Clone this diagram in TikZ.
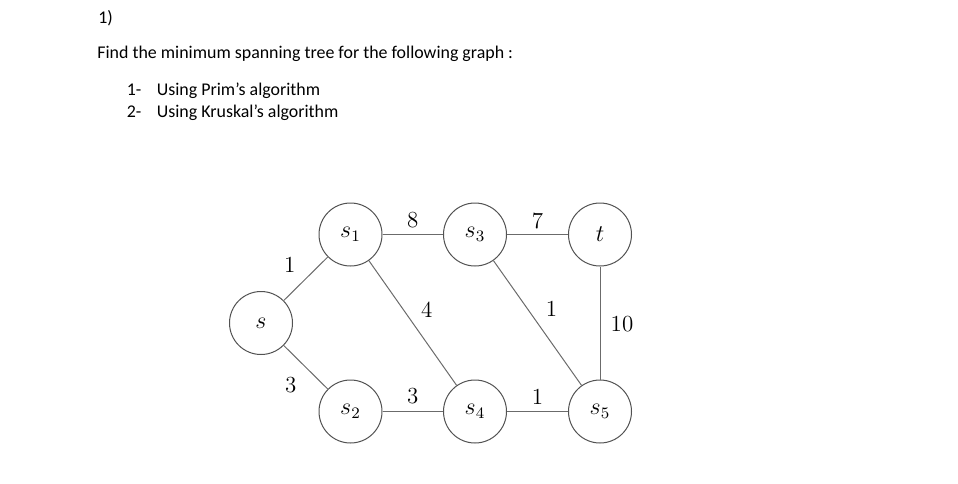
\documentclass[tikz,border=0pt]{standalone}
\usepackage{fontspec}
\usepackage{amsmath}
\usetikzlibrary{positioning}
\newfontfamily\docfont{Carlito}

\begin{document}
\begin{tikzpicture}[x=0.5pt,y=-0.5pt]
        % Define some colors for convenience
        \definecolor{edgecolor}{rgb}{0.42,0.42,0.42} % edge color
        \definecolor{vertexcolor}{rgb}{0.32,0.32,0.32} % vertex border color

        \tikzset{
            vertex/.style={draw=vertexcolor, circle, line width=0.5pt, minimum size=31.5pt, inner sep=0pt, font=\fontsize{11.5}{13}\selectfont},
            link/.style={draw=edgecolor, line width=0.5pt},
            weight/.style={midway, inner sep=0pt, font=\fontsize{11.5}{13}\selectfont},
            task/.style={anchor=base west, inner sep=0pt, font=\docfont\fontsize{8.95}{10}\selectfont}
        }

        \useasboundingbox (0,0) rectangle (958,483); % page size

        % Question text
        \node[task] (qnum) at (98,23) {1)}; % question number
        \node[task] (qtext) at (97,58) {Find the minimum spanning tree for the following graph :}; % question
        \node[task] (item1) at (126.5,95) {1-}; % first item
        \node[task] (prim) at (156.5,95) {Using Prim’s algorithm};
        \node[task] (item2) at (126.5,117) {2-}; % second item
        \node[task] (kruskal) at (156.5,117) {Using Kruskal’s algorithm};

        % Vertices
        \node[vertex] (s) at (261,323) {$s$}; % source
        \node[vertex] (s1) at (350.5,234.5) {$s_1$};
        \node[vertex] (s3) at (475,234.5) {$s_3$};
        \node[vertex] (t) at (600,234.5) {$t$}; % sink
        \node[vertex] (s2) at (350.5,411.5) {$s_2$};
        \node[vertex] (s4) at (475,411.5) {$s_4$};
        \node[vertex] (s5) at (600,411.5) {$s_5$};

        % Weighted edges
        \draw[link] (s) -- node[weight, shift={(-16,-14)}] {1} (s1);
        \draw[link] (s) -- node[weight, shift={(-15,18)}] {3} (s2);
        \draw[link] (s1) -- node[weight, shift={(0,-14)}] {8} (s3);
        \draw[link] (s3) -- node[weight, shift={(0,-14)}] {7} (t);
        \draw[link] (s1) -- node[weight, shift={(14,-13)}] {4} (s4);
        \draw[link] (s3) -- node[weight, shift={(14,-14)}] {1} (s5);
        \draw[link] (t) -- node[weight, shift={(22,1)}] {10} (s5);
        \draw[link] (s2) -- node[weight, shift={(0,-15)}] {3} (s4);
        \draw[link] (s4) -- node[weight, shift={(0,-15)}] {1} (s5);
    \end{tikzpicture}
\end{document}
